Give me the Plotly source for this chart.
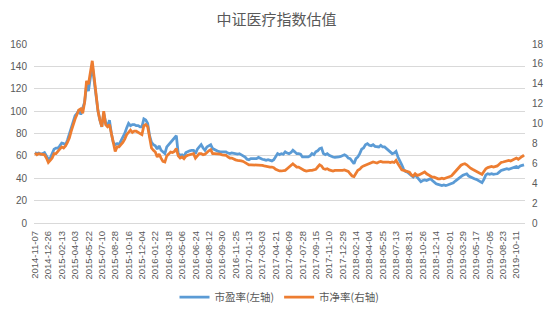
import plotly.graph_objects as go
import pandas as pd

# Weekly dates (last trading day of each week; weeks fully closed for holidays are absent)
skipped_weeks = ["2016-02-12", "2016-10-07", "2017-10-06", "2018-10-05", "2019-02-08"]
holiday_dates = {
    "2015-01-02": "2014-12-31", "2015-02-20": "2015-02-17", "2015-05-01": "2015-04-30",
    "2015-10-02": "2015-09-30", "2016-01-01": "2015-12-31", "2016-06-10": "2016-06-08",
    "2016-09-16": "2016-09-14", "2017-01-27": "2017-01-26", "2018-02-16": "2018-02-14",
    "2018-04-06": "2018-04-04", "2019-04-05": "2019-04-04", "2019-05-03": "2019-04-30",
    "2019-06-07": "2019-06-06", "2019-09-13": "2019-09-12", "2019-10-04": "2019-09-30",
}
fridays = pd.date_range("2014-11-07", "2019-11-08", freq="7D").strftime("%Y-%m-%d").tolist()
dates = [holiday_dates.get(d, d) for d in fridays if d not in skipped_weeks]
tick_labels = dates[::7]

# 市盈率 (left axis)
pe = [
    63, 62, 62.5, 61.5, 62, 63, 60, 57, 58, 62,
    66, 67, 67, 69, 71.5, 71, 70, 74, 80, 86,
    91, 96, 98, 101, 97, 103, 108, 123, 118, 130,
    141, 127, 112, 100, 92, 86, 98, 90, 86, 92,
    80, 72, 70, 71, 70, 73, 76, 80, 85, 89,
    87, 88, 88, 87, 87, 86, 86, 93, 92, 89,
    78, 72, 70, 69, 66, 69, 65, 63, 62, 68,
    70, 72, 73, 75, 78, 62, 60.5, 61, 59.5, 63,
    64, 64.5, 65, 65, 62, 66, 68, 70, 67, 65,
    68, 69, 70, 66.5, 65.5, 65, 64, 63.6, 63.6, 63,
    63.5, 62.5, 62, 62.6, 62, 62, 61.5, 62, 61, 60,
    59, 57, 56.5, 57.5, 57.5, 58, 57.5, 58.6, 57.5, 57,
    56.6, 56, 56.5, 56, 55.5, 56.5, 60, 62, 61, 62,
    61.5, 63.6, 62.5, 62, 63, 65, 63.6, 62, 62, 61.5,
    59, 59, 58.6, 59, 60, 62, 61, 63.6, 64.5, 66.5,
    67, 62, 61, 62, 60.5, 59.5, 59, 58.6, 58.5, 59,
    59.5, 60.4, 61, 60, 58, 57.5, 55, 53, 57.5, 59,
    62, 66, 67, 70, 71, 69.5, 69, 70, 68.5, 68.5,
    68, 69.5, 68, 68, 66.5, 65, 63.6, 62, 62.5, 64,
    59, 56, 52, 48, 46, 45.5, 44, 42.6, 41, 43,
    41, 39.6, 37, 38, 38.5, 38, 38.5, 39.6, 38, 36,
    35, 34.5, 34, 33.5, 34, 33.5, 34, 34.5, 35.5, 36,
    37.5, 39, 40, 41.5, 42.6, 43.5, 44, 42, 41, 40,
    39.6, 39, 38, 37, 36, 39, 43, 44, 43.5, 44,
    43.5, 43.8, 44, 45.5, 47, 47.5, 48, 48.5, 48, 48.5,
    49.5, 50, 50.5, 49.5, 51, 51.5, 52,
]

# 市净率 (right axis)
pb = [
    7.03, 6.86, 6.98, 6.92, 6.92, 6.86, 6.53, 6.08, 6.30, 6.53,
    6.98, 6.98, 7.20, 7.43, 7.65, 7.54, 7.76, 8.10, 8.55, 9.23,
    9.90, 10.46, 10.91, 11.36, 11.48, 11.03, 12.15, 14.29, 13.95, 15.41,
    16.31, 14.63, 12.71, 11.25, 10.35, 9.68, 11.25, 9.90, 9.68, 9.90,
    9.00, 7.88, 7.20, 7.65, 7.65, 7.88, 8.10, 8.44, 8.89, 9.11,
    9.34, 9.11, 9.23, 9.23, 9.11, 9.00, 8.89, 9.79, 9.90, 9.68,
    8.44, 7.54, 7.31, 7.14, 6.64, 6.93, 6.53, 6.19, 6.13, 6.75,
    6.93, 7.14, 7.09, 7.20, 7.48, 6.75, 6.53, 6.64, 6.47, 6.72,
    6.81, 6.86, 6.92, 6.98, 6.53, 6.75, 6.98, 6.98, 6.86, 6.92,
    7.14, 7.26, 7.38, 6.98, 6.98, 6.98, 6.98, 6.92, 6.86, 6.86,
    6.81, 6.64, 6.53, 6.53, 6.41, 6.35, 6.30, 6.30, 6.24, 6.19,
    6.08, 6.03, 5.85, 5.85, 5.85, 5.85, 5.83, 5.79, 5.79, 5.79,
    5.74, 5.68, 5.63, 5.63, 5.63, 5.57, 5.40, 5.29, 5.23, 5.23,
    5.29, 5.29, 5.46, 5.63, 5.74, 5.96, 5.79, 5.63, 5.63, 5.51,
    5.34, 5.29, 5.23, 5.29, 5.29, 5.29, 5.34, 5.40, 5.63, 5.85,
    5.74, 5.46, 5.40, 5.46, 5.34, 5.29, 5.23, 5.29, 5.29, 5.23,
    5.29, 5.29, 5.34, 5.29, 5.18, 4.95, 4.73, 4.67, 5.06, 5.29,
    5.40, 5.63, 5.74, 5.81, 5.91, 6.02, 6.08, 6.13, 6.08, 6.02,
    6.13, 6.19, 6.13, 6.13, 6.19, 6.13, 6.08, 6.13, 6.08, 6.30,
    5.96, 5.63, 5.34, 5.29, 5.23, 5.18, 5.12, 4.84, 4.73, 4.95,
    4.79, 4.84, 4.95, 5.06, 5.13, 4.95, 4.84, 4.73, 4.61, 4.61,
    4.50, 4.44, 4.44, 4.50, 4.44, 4.50, 4.56, 4.61, 4.73, 4.95,
    5.18, 5.40, 5.63, 5.81, 5.91, 5.96, 5.85, 5.63, 5.51, 5.40,
    5.29, 5.23, 5.12, 5.01, 4.89, 5.18, 5.46, 5.57, 5.63, 5.68,
    5.63, 5.68, 5.74, 5.91, 6.08, 6.13, 6.19, 6.24, 6.30, 6.24,
    6.36, 6.41, 6.53, 6.41, 6.58, 6.69, 6.81,
]

left_ticks = [0, 20, 40, 60, 80, 100, 120, 140, 160]
right_ticks = [0, 2, 4, 6, 8, 10, 12, 14, 16, 18]

GRAY = "#595959"
FONT = "Noto Sans CJK SC, sans-serif"

fig = go.Figure()
fig.add_trace(go.Scatter(
    x=dates, y=pe, name="市盈率(左轴)", mode="lines",
    line=dict(color="#5B9BD5", width=2.75),
))
fig.add_trace(go.Scatter(
    x=dates, y=pb, name="市净率(右轴)", mode="lines", yaxis="y2",
    line=dict(color="#ED7D31", width=2.75),
))

fig.update_layout(
    width=553, height=312,
    margin=dict(l=34, r=28, t=44, b=89),
    paper_bgcolor="white", plot_bgcolor="white",
    font=dict(family=FONT, size=10, color=GRAY),
    title=dict(text="中证医疗指数估值", x=0.5, xanchor="center",
               y=1 - 20 / 312, yanchor="middle",
               font=dict(size=15, color=GRAY, family=FONT)),
    xaxis=dict(type="category", range=[-0.5, len(dates) - 0.5],
               tickmode="array", tickvals=tick_labels, ticktext=tick_labels,
               tickangle=-90, showgrid=False, showline=False, ticks="",
               ticklabelstandoff=5, automargin=False,
               tickfont=dict(size=9.5, color=GRAY, family="Liberation Sans")),
    yaxis=dict(range=[0, 160], tickvals=left_ticks, showgrid=True,
               gridcolor="#D9D9D9", gridwidth=1, zeroline=True,
               zerolinecolor="#D9D9D9", zerolinewidth=1, showline=False,
               ticks="", ticklabelstandoff=6, automargin=False,
               tickfont=dict(size=10, color=GRAY, family="Liberation Sans")),
    yaxis2=dict(range=[0, 18], tickvals=right_ticks, overlaying="y",
                side="right", showgrid=False, zeroline=False, showline=False,
                ticks="", ticklabelstandoff=6, automargin=False,
                tickfont=dict(size=10, color=GRAY, family="Liberation Sans")),
    legend=dict(orientation="h", x=0.5, xanchor="center", xref="paper",
                y=1 - 297 / 312, yanchor="middle", yref="container",
                font=dict(size=10.5, color=GRAY, family=FONT),
                bgcolor="rgba(0,0,0,0)"),
    showlegend=True,
)

fig.write_html("out.html")
